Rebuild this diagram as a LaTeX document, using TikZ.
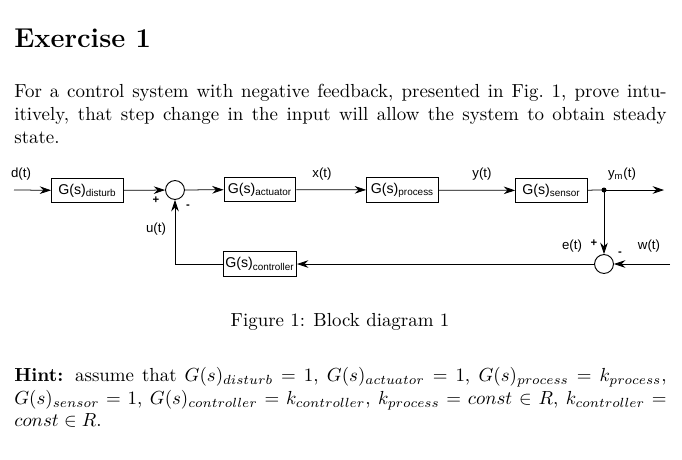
\documentclass[tikz,border=0pt]{standalone}
\usepackage{fontspec}
\newfontfamily\diagfont{Liberation Sans}
\usetikzlibrary{arrows.meta}
\begin{document}
\begin{tikzpicture}[x=0.529pt,y=-0.529pt,
  blk/.style={draw,line width=0.5pt,minimum width=38pt,minimum height=13pt,inner sep=1pt,font=\diagfont\fontsize{7.5}{8}\selectfont},
  sumc/.style={draw,circle,line width=0.5pt,minimum size=10pt,inner sep=0pt},
  lbl/.style={font=\diagfont\fontsize{7}{8}\selectfont,inner sep=0pt},
  sgn/.style={font=\diagfont\bfseries\fontsize{6}{7}\selectfont,inner sep=0pt},
  con/.style={line width=0.4pt,-{Stealth[length=6pt,width=4pt]}},
  ln/.style={line width=0.4pt}]
\useasboundingbox (0,0) rectangle (682,459);
\node[anchor=base west,inner sep=0pt,font=\Large\bfseries] (title) at (14,47) {Exercise 1};
\node[anchor=north west,inner sep=0pt,text width=345pt,align=justify] (para) at (14,84)
 {For a control system with negative feedback, presented in Fig.~1, prove intuitively, that step change in the input will allow the system to obtain steady state.};
% diagram
\coordinate (in) at (14,190);
\node[blk] (dist) at (87.5,190.5) {G(s)\textsubscript{disturb}};
\node[sumc] (s1) at (175,190) {};
\node[blk] (act) at (260,189.5) {G(s)\textsubscript{actuator}};
\node[blk] (proc) at (402.5,190) {G(s)\textsubscript{process}};
\node[blk] (sens) at (551.5,190.5) {G(s)\textsubscript{sensor}};
\coordinate (dot) at (604,190);
\coordinate (out) at (664,190);
\node[sumc] (s2) at (604,264) {};
\coordinate (win) at (670,264);
\node[blk] (ctrl) at (260,264) {G(s)\textsubscript{controller}};
\coordinate (corner) at (175,264);
\draw[con] (in) -- (dist);
\draw[con] (dist) -- (s1);
\draw[con] (s1) -- (act);
\draw[con] (act) -- (proc);
\draw[con] (proc) -- (sens);
\draw[ln] (sens) -- (dot);
\draw[con] (dot) -- (out);
\fill (dot) circle (2.5);
\draw[con] (dot) -- (s2);
\draw[con] (win) -- (s2);
\draw[con] (s2) -- (ctrl);
\draw[con] (ctrl.west) -- (corner) -- (s1.south);
\node[lbl] (ld) at (21,174) {d(t)};
\node[lbl] (lx) at (322,174) {x(t)};
\node[lbl] (ly) at (482,174) {y(t)};
\node[lbl] (lym) at (622,174) {y\textsubscript{m}(t)};
\node[lbl] (lu) at (156,229) {u(t)};
\node[lbl] (le) at (572,246) {e(t)};
\node[lbl] (lw) at (649,246) {w(t)};
\node[sgn] (p1) at (156,200) {+};
\node[sgn] (m1) at (188,207) {-};
\node[sgn] (p2) at (594,243) {+};
\node[sgn] (m2) at (620,254) {-};
\node[anchor=base,inner sep=0pt] (cap) at (340,326) {Figure 1: Block diagram 1};
\node[anchor=north west,inner sep=0pt,text width=345pt,align=justify] (hint) at (14,367)
 {\textbf{Hint:} assume that $G(s)_{disturb}=1$, $G(s)_{actuator}=1$, $G(s)_{process}=k_{process}$, $G(s)_{sensor}=1$, $G(s)_{controller}=k_{controller}$, $k_{process}=const\in R$, $k_{controller}=const\in R$.};
\end{tikzpicture}
\end{document}
